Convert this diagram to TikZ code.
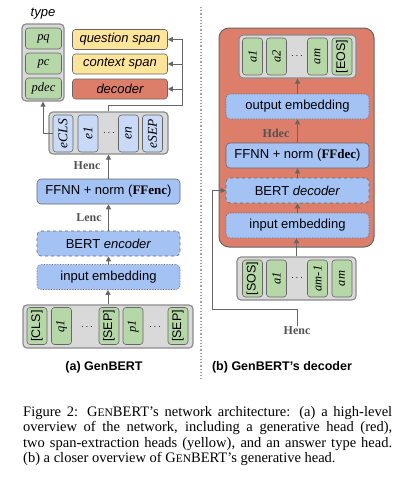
\documentclass[tikz,border=0pt]{standalone}
\usepackage{fontspec}
\usepackage{graphicx}
\setmainfont{Liberation Serif}
\setsansfont{Liberation Sans}
\usetikzlibrary{arrows.meta}

\definecolor{tokgreen}{HTML}{B6D7A8}
\definecolor{boxblue}{HTML}{A4C2F4}
\definecolor{paleblue}{HTML}{C9DAF8}
\definecolor{spanyellow}{HTML}{FFE599}
\definecolor{decred}{HTML}{DD7E6B}
\definecolor{grpgray}{HTML}{D9D9D9}
\definecolor{edgegray}{HTML}{666666}

\newcommand{\gbsc}{G{\fontsize{11.5}{11.5}\selectfont EN}BERT}

\tikzset{
  grp/.style={draw=edgegray!75, line width=1.2pt, fill=grpgray, rounded corners=4pt},
  tok/.style={draw=edgegray, line width=0.6pt, fill=tokgreen, rounded corners=3pt,
    minimum width=20pt, minimum height=37pt, inner sep=0pt,
    font=\fontsize{12.5}{14}\selectfont\rmfamily\itshape},
  etok/.style={tok, fill=paleblue, font=\fontsize{13.5}{14}\selectfont\rmfamily\itshape},
  ptok/.style={draw=edgegray, line width=0.6pt, fill=tokgreen, rounded corners=3pt,
    minimum width=36pt, minimum height=21pt, inner sep=0pt,
    font=\fontsize{12.5}{14}\selectfont\rmfamily\itshape},
  head/.style={draw=edgegray, line width=0.6pt, rounded corners=3pt,
    minimum width=95pt, minimum height=20pt, inner sep=0pt,
    font=\fontsize{13}{15}\selectfont\sffamily\itshape},
  blk/.style={draw=edgegray, line width=0.6pt, fill=boxblue, rounded corners=4pt,
    minimum width=143pt, minimum height=25pt, inner sep=0pt,
    font=\fontsize{13}{15}\selectfont\sffamily},
  lbl/.style={font=\fontsize{12}{14}\selectfont\rmfamily\bfseries, text=edgegray!80!black, inner sep=1pt},
  arr/.style={draw=edgegray, line width=1pt, -{Triangle[length=5pt,width=5pt]}},
  sub/.style={font=\fontsize{12.5}{15}\selectfont\sffamily\bfseries}
}

\begin{document}
\begin{tikzpicture}[x=1pt,y=-1pt]
  \useasboundingbox (0,0) rectangle (407,477);

  % (a) GenBERT
  \node[font=\fontsize{13}{15}\selectfont\sffamily\itshape] (typelbl) at (43,14) {type};
  \node[grp, minimum width=42pt, minimum height=77pt] (typegrp) at (43,62.5) {};
  \node[ptok] (pq) at (43.5,38.5) {pq};
  \node[ptok] (pc) at (43.5,63.5) {pc};
  \node[ptok] (pdec) at (43.5,88.5) {pdec};

  \node[head, fill=spanyellow] (qspan) at (120,39.5) {question span};
  \node[head, fill=spanyellow] (cspan) at (120,64) {context span};
  \node[head, fill=decred] (dechead) at (120,89) {decoder};

  \node[grp, minimum width=119pt, minimum height=42pt] (egrp) at (108.5,133) {};
  \foreach \x/\t/\n in {63/eCLS/ecls, 88/e1/eone, 128.5/en/en, 152.5/eSEP/esep}{
    \node[etok] (\n) at (\x,133.5) {\rotatebox{90}{\t}};
  }
  \node (edots) at (109,133) {$\cdots$};

  \node[blk] (ffenc) at (108.5,191.5) {FFNN + norm ({\rmfamily\bfseries FFenc})};
  \node[blk, dashed] (bertenc) at (108.5,243.5) {BERT \textit{encoder}};
  \node[blk, densely dotted] (inemb) at (108.5,277) {input embedding};

  \node[grp, minimum width=170pt, minimum height=43pt] (tokgrp) at (108,326.5) {};
  \foreach \x/\t/\n in {37/{\sffamily\upshape[CLS]}/cls, 61.5/q1/qone, 109/{\sffamily\upshape[SEP]}/sepa,
                        133/p1/pone, 178/{\sffamily\upshape[SEP]}/sepb}{
    \node[tok] (\n) at (\x,326) {\rotatebox{90}{\t}};
  }
  \node (qdots) at (87,327) {$\cdots$};
  \node (pdots) at (155,327) {$\cdots$};

  \node[lbl] (henc) at (87,166) {Henc};
  \node[lbl] (lenc) at (89,218) {Lenc};

  \draw[arr] (tokgrp.north) -- (tokgrp.north |- inemb.south);
  \draw[arr] (inemb) -- (bertenc);
  \draw[arr] (bertenc) -- (ffenc);
  \draw[arr] (ffenc) -- (egrp);
  \draw[arr] (ecls.west) -| (typegrp.south);
  \coordinate (hub) at (182,105);
  \draw[arr] (egrp.north) |- (hub) |- (qspan.east);
  \draw[arr] (hub |- cspan.east) -- (cspan.east);
  \draw[arr] (hub |- dechead.east) -- (dechead.east);

  \node[sub] (capa) at (104,367) {(a) GenBERT};

  % divider
  \draw[edgegray!60, dotted, line width=1.2pt] (201,7) -- (201,380);

  % (b) decoder
  \node[draw=edgegray, line width=1pt, fill=decred, rounded corners=10pt,
        minimum width=155pt, minimum height=219pt] (decbg) at (296.5,137.5) {};

  \node[grp, minimum width=117pt, minimum height=43pt] (outgrp) at (297.5,56.5) {};
  \foreach \x/\t/\n in {252.5/a1/oa, 276.5/a2/ob, 317.5/am/om, 342/{\sffamily\upshape[EOS]}/eos}{
    \node[tok] (\n) at (\x,56.5) {\rotatebox{90}{\t}};
  }
  \node (odots) at (297,56) {$\cdots$};

  \node[blk, densely dotted] (outemb) at (297.5,106.5) {output embedding};
  \node[blk] (ffdec) at (297.5,155.5) {FFNN + norm ({\rmfamily\bfseries FFdec})};
  \node[blk, dashed] (bertdec) at (297.5,190.5) {BERT \textit{decoder}};
  \node[blk, densely dotted] (indec) at (297.5,225.5) {input embedding};

  \node[grp, minimum width=119pt, minimum height=43pt] (ingrp) at (296.5,278.5) {};
  \foreach \x/\t/\n in {252.5/{\sffamily\upshape[SOS]}/sos, 276.5/a1/ia, 317.5/am-1/iam, 342/am/im}{
    \node[tok] (\n) at (\x,278.5) {\rotatebox{90}{\t}};
  }
  \node (idots) at (297,278) {$\cdots$};

  \node[lbl] (hdec) at (276,133) {Hdec};
  \node[lbl] (hencb) at (297,331) {Henc};

  \draw[arr] (ingrp.north) -- (ingrp.north |- indec.south);
  \draw[arr] (indec) -- (bertdec);
  \draw[arr] (bertdec) -- (ffdec);
  \draw[arr] (ffdec) -- (outemb);
  \draw[arr] (outemb) -- (outgrp);
  \coordinate (bend) at (212,309);
  \draw[arr] (hencb.north) |- (bend) |- (bertdec.west);

  \node[sub] (capb) at (282,367) {(b) GenBERT’s decoder};

  % figure caption
  \node[anchor=north west, inner sep=0pt, text width=369pt, align=justify,
        font=\fontsize{14.5}{15.5}\selectfont\rmfamily] (figcap) at (23,406)
    {Figure 2: \gbsc’s network architecture: (a) a high-level\linebreak
     overview of the network, including a generative head (red),\linebreak
     two span-extraction heads (yellow), and an answer type head.\linebreak
     (b) a closer overview of \gbsc’s generative head.};
\end{tikzpicture}
\end{document}
